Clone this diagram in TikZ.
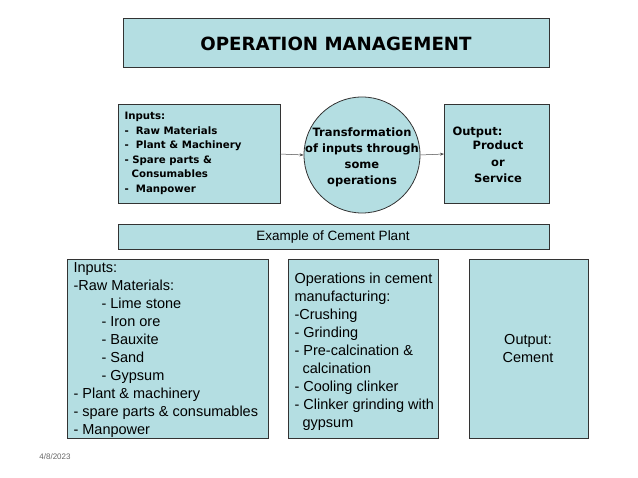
\documentclass[tikz,border=0pt]{standalone}
\usepackage{fontspec}
\setmainfont{Liberation Sans}
\newfontfamily\vfont{DejaVu Sans}
\definecolor{boxc}{RGB}{180,222,226}
\tikzset{bx/.style={draw=black!80,fill=boxc,line width=0.8pt,inner sep=0pt},
  tb/.style={font=\vfont\bfseries\fontsize{10.5}{14}\selectfont,align=left},
  bt/.style={font=\fontsize{14.5}{18}\selectfont,align=left,anchor=north west},
  arr/.style={-{Stealth[length=4pt,width=3pt]},line width=0.5pt,black!70}}
\usetikzlibrary{arrows.meta}
\begin{document}
\begin{tikzpicture}[x=1pt,y=-1pt]
\useasboundingbox (0,0) rectangle (638,478);
\draw[bx] (123,18) rectangle (549,67);
\node[font=\vfont\bfseries\fontsize{18.2}{20}\selectfont] (title) at (336,44) {OPERATION MANAGEMENT};
\draw[bx] (118,104) rectangle (280,203);
\coordinate (inR) at (280,154);
\node[tb,anchor=north west,font=\vfont\bfseries\fontsize{10.2}{14.5}\selectfont] (in) at (121,109) {Inputs:\\-\ \ Raw Materials\\-\ \ Plant \& Machinery\\- Spare parts \&\\\ \ Consumables\\-\ \ Manpower};
\node[bx,circle,minimum size=116pt] (circ) at (362,155) {};
\node[tb,align=center,font=\vfont\bfseries\fontsize{11.5}{16}\selectfont] (ct) at (362,157) {Transformation\\of inputs through\\some\\operations};
\draw[bx] (444,104) rectangle (549,203);
\coordinate (outL) at (444,154);
\node[tb,anchor=north west,font=\vfont\bfseries\fontsize{11.5}{14}\selectfont] (out) at (449,123) {Output:};
\node[tb,align=center,font=\vfont\bfseries\fontsize{11.5}{16.5}\selectfont] (out2) at (498,162) {Product\\or\\Service};
\draw[arr] (inR) -- (circ.west);
\draw[arr] (circ.east) -- (outL);
\draw[bx] (118,224) rectangle (549,249);
\node[font=\fontsize{13.5}{15}\selectfont] (ex) at (333,237) {Example of Cement Plant};
\draw[bx] (67,259) rectangle (268,438);
\node[bt] (bl) at (70,259) {Inputs:\\-Raw Materials:\\\hspace{28pt}- Lime stone\\\hspace{28pt}- Iron ore\\\hspace{28pt}- Bauxite\\\hspace{28pt}- Sand\\\hspace{28pt}- Gypsum\\- Plant \& machinery\\- spare parts \& consumables\\- Manpower};
\draw[bx] (288,259) rectangle (438,438);
\node[bt] (bm) at (291,269) {Operations in cement\\manufacturing:\\-Crushing\\- Grinding\\- Pre-calcination \&\\\ \ calcination\\- Cooling clinker\\- Clinker grinding with\\\ \ gypsum};
\draw[bx] (469,259) rectangle (588,438);
\node[font=\fontsize{14.5}{18}\selectfont,align=center] (br) at (528,349) {Output:\\Cement};
\node[font=\fontsize{8}{10}\selectfont,text=black!60] (date) at (55,457) {4/8/2023};
\end{tikzpicture}
\end{document}
